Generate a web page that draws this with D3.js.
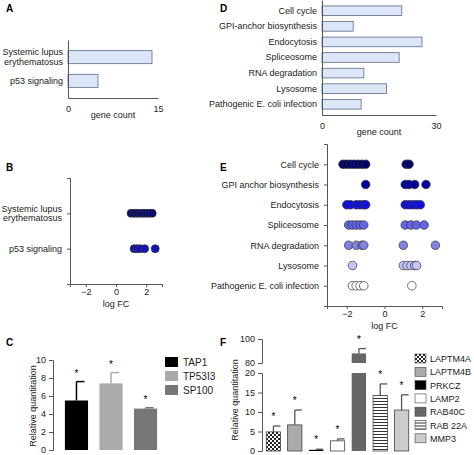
<!DOCTYPE html>
<html><head><meta charset="utf-8">
<script src="https://cdn.jsdelivr.net/npm/d3@7"></script>
<style>body{margin:0;background:#fff}svg{font-family:"Liberation Sans",Arial,sans-serif}</style>
</head><body><svg id="c" width="474" height="455"></svg>
<script>
const aTerms = ["Systemic lupus\nerythematosus", "p53 signaling"];
const aCounts = [14, 5];
const dTerms = ["Cell cycle", "GPI-anchor biosynthesis", "Endocytosis", "Spliceosome", "RNA degradation", "Lysosome", "Pathogenic E. coli infection"];
const dCounts = [21, 8.2, 26.3, 20.3, 11, 17, 10.3];
const bFC = [
  [1.0, 1.2, 1.4, 1.6, 1.8, 2.0, 2.2, 2.4],
  [1.2, 1.4, 1.6, 1.9, 2.6]
];
const bColors = ["#0a0a70", "#1515b5"];
const eTerms = ["Cell cycle", "GPI anchor biosynthesis", "Endocytosis", "Spliceosome", "RNA degradation", "Lysosome", "Pathogenic E. coli infection"];
const eFC = [
  [-2.2, -2.0, -1.8, -1.6, -1.4, -1.2, -1.0, 1.15, 1.3],
  [-1.0, 1.1, 1.3, 1.6, 2.2],
  [-2.0, -1.8, -1.5, -1.3, -1.1, -1.0, 1.1, 1.3, 1.5, 1.7, 1.9],
  [-1.9, -1.7, -1.5, -1.3, -1.1, 1.1, 1.4, 1.7, 2.1],
  [-1.9, -1.5, -1.2, -1.1, 1.0, 2.7],
  [-1.7, 1.0, 1.2, 1.4, 1.6, 1.7],
  [-1.7, -1.5, -1.3, -1.1, 1.45]
];
const eColors = ["#00006a", "#0000a0", "#1010e0", "#6464e6", "#8282e2", "#c4c4fa", "#ffffff"];
const cGenes = ["TAP1", "TP53I3", "SP100"];
const cValues = [5.5, 7.4, 4.6];
const cErrors = [2.1, 1.2, 0.1];
const cFills = ["#000", "#aaa", "#777"];
const fGenes = ["LAPTM4A", "LAPTM4B", "PRKCZ", "LAMP2", "RAB40C", "RAB 22A", "MMP3"];
const fValues = [4.9, 6.7, 0.3, 2.6, 88, 14.2, 10.5];
const fErrors = [1.5, 3.8, 0.15, 0.5, 4, 3, 3.9];
const fFills = ["url(#check)", "#aaa", "#000", "#fff", "#666", "url(#stripe)", "#ccc"];

const svg = d3.select("#c");
const defs = svg.append("defs");
const chk = defs.append("pattern").attr("id", "check").attr("width", 4).attr("height", 4).attr("patternUnits", "userSpaceOnUse");
chk.append("rect").attr("width", 4).attr("height", 4).attr("fill", "#fff");
chk.append("rect").attr("width", 2).attr("height", 2).attr("fill", "#222");
chk.append("rect").attr("x", 2).attr("y", 2).attr("width", 2).attr("height", 2).attr("fill", "#222");
const str = defs.append("pattern").attr("id", "stripe").attr("width", 4).attr("height", 3).attr("patternUnits", "userSpaceOnUse");
str.append("rect").attr("width", 4).attr("height", 3).attr("fill", "#fff");
str.append("rect").attr("y", 2).attr("width", 4).attr("height", 1).attr("fill", "#333");

function panelLabel(t, x, y) {
  svg.append("text").attr("x", x).attr("y", y).attr("font-size", 10).attr("font-weight", "bold").text(t);
}
function styleAxis(g, fs = 9) {
  g.selectAll("path,line").attr("stroke", "#555");
  g.selectAll("text").attr("font-size", fs).attr("fill", "#222");
}
function multiline(sel) {
  sel.each(function() {
    const t = d3.select(this), lines = t.text().split("\n");
    if (lines.length < 2) return;
    const x = t.attr("x");
    t.text(null).attr("dy", null);
    lines.forEach((l, i) => t.append("tspan").attr("x", x).attr("dy", i ? "1.1em" : "-0.25em").text(l));
  });
}

// A & D: bar charts
function barPanel(terms, counts, x0, x1, yTop, yBot, max, pad) {
  const x = d3.scaleLinear().domain([0, max]).range([x0, x1]);
  const y = d3.scaleBand().domain(terms).range([yTop, yBot]).padding(pad);
  svg.append("g").selectAll("rect").data(terms).join("rect")
    .attr("x", x(0)).attr("y", d => y(d)).attr("height", y.bandwidth())
    .attr("width", (d, i) => x(counts[i]) - x(0))
    .attr("fill", "#dce6f7").attr("stroke", "#5a6a8a").attr("stroke-width", 0.8);
  const ga = svg.append("g").attr("transform", `translate(${x0},0)`)
    .call(d3.axisLeft(y).tickSize(0).tickPadding(5));
  ga.selectAll("text").call(multiline);
  styleAxis(ga);
  const gx = svg.append("g").attr("transform", `translate(0,${yBot})`)
    .call(d3.axisBottom(x).tickValues([0, max]).tickSize(0).tickPadding(8));
  styleAxis(gx);
  svg.append("text").attr("x", (x0 + x1) / 2).attr("y", yBot + 20).attr("text-anchor", "middle").attr("font-size", 9).attr("fill", "#222").text("gene count");
}
panelLabel("A", 6, 12);
barPanel(aTerms, aCounts, 68, 158, 40, 98, 15, 0.45);
panelLabel("D", 220, 12);
barPanel(dTerms, dCounts, 322, 436, 0, 115, 30, 0.38);

// B & E: dot plots
function dotPanel(terms, fcs, colors, x0, x1, yTop, yBot, r) {
  const x = d3.scaleLinear().domain([-3.05, 3.05]).range([x0, x1]);
  const y = d3.scalePoint().domain(terms).range([yTop, yBot]).padding(1);
  terms.forEach((t, i) => {
    svg.append("g").selectAll("circle").data(fcs[i]).join("circle")
      .attr("cx", d => x(d)).attr("cy", y(t)).attr("r", r)
      .attr("fill", colors[i]).attr("stroke", "#333").attr("stroke-width", 0.7);
  });
  const ga = svg.append("g").attr("transform", `translate(${x0},0)`)
    .call(d3.axisLeft(y).tickSize(3).tickPadding(5));
  ga.selectAll("text").call(multiline);
  styleAxis(ga);
  const gx = svg.append("g").attr("transform", `translate(0,${yBot})`)
    .call(d3.axisBottom(x).tickValues([-2, 0, 2]).tickSize(3).tickPadding(2).tickFormat(d => d < 0 ? "\u2212" + Math.abs(d) : d));
  styleAxis(gx);
  svg.append("text").attr("x", x(0)).attr("y", yBot + 23).attr("text-anchor", "middle").attr("font-size", 9).attr("fill", "#222").text("log FC");
}
panelLabel("B", 6, 171);
dotPanel(aTerms, bFC, bColors, 70, 162, 178, 284, 4);
panelLabel("E", 220, 171);
dotPanel(eTerms, eFC, eColors, 327, 442, 144, 306, 4.3);

// C: bar chart with error bars
panelLabel("C", 6, 346);
{
  const y = d3.scaleLinear().domain([0, 10]).range([450, 360]);
  const x = d3.scaleBand().domain(cGenes).range([58, 164]).paddingInner(0.33).paddingOuter(0.2);
  const g = svg.append("g");
  cGenes.forEach((k, i) => {
    const cx = x(k) + x.bandwidth() / 2, top = y(cValues[i] + cErrors[i]);
    g.append("line").attr("x1", cx).attr("x2", cx).attr("y1", y(cValues[i])).attr("y2", top).attr("stroke", cFills[i]).attr("stroke-width", 1.5);
    g.append("line").attr("x1", cx).attr("x2", cx + 8).attr("y1", top).attr("y2", top).attr("stroke", cFills[i]).attr("stroke-width", 1.5);
    g.append("rect").attr("x", x(k)).attr("width", x.bandwidth()).attr("y", y(cValues[i])).attr("height", y(0) - y(cValues[i])).attr("fill", cFills[i]);
    g.append("text").attr("x", cx).attr("y", top - 5).attr("text-anchor", "middle").attr("font-size", 10).text("*");
  });
  const ga = svg.append("g").attr("transform", "translate(53,0)").call(d3.axisLeft(y).tickValues([0, 2, 4, 6, 8, 10]).tickSize(4));
  styleAxis(ga);
  svg.append("text").attr("transform", "translate(36,406) rotate(-90)").attr("text-anchor", "middle").attr("font-size", 9).attr("fill", "#222").text("Relative quantitation");
  const lg = svg.append("g").selectAll("g").data(cGenes).join("g").attr("transform", (d, i) => `translate(165,${357 + i * 14})`);
  lg.append("rect").attr("width", 13).attr("height", 10).attr("fill", (d, i) => cFills[i]);
  lg.append("text").attr("x", 18).attr("y", 9).attr("font-size", 10).attr("fill", "#222").text(d => d);
}

// F: broken-axis bar chart
panelLabel("F", 220, 346);
{
  const yLo = d3.scaleLinear().domain([0, 20]).range([451, 373]);
  const yHi = d3.scaleLinear().domain([80, 100]).range([363, 339]);
  const x = d3.scaleBand().domain(fGenes).range([262, 413]).paddingInner(0.33).paddingOuter(0.2);
  const g = svg.append("g");
  fGenes.forEach((k, i) => {
    const v = fValues[i], e = fErrors[i], bx = x(k), w = x.bandwidth(), cx = bx + w / 2;
    const sc = v > 20 ? yHi : yLo, top = sc(v + e);
    g.append("line").attr("x1", cx).attr("x2", cx).attr("y1", sc(v)).attr("y2", top).attr("stroke", "#555").attr("stroke-width", 1.3);
    g.append("line").attr("x1", cx).attr("x2", cx + 7).attr("y1", top).attr("y2", top).attr("stroke", "#555").attr("stroke-width", 1.3);
    const stroke = fFills[i] === "#000" || fFills[i] === "#666" ? "none" : "#444";
    if (v > 20) {
      g.append("rect").attr("x", bx).attr("width", w).attr("y", yLo(20)).attr("height", yLo(0) - yLo(20)).attr("fill", fFills[i]);
      g.append("rect").attr("x", bx).attr("width", w).attr("y", yHi(v)).attr("height", yHi(80) - yHi(v)).attr("fill", fFills[i]);
    } else {
      g.append("rect").attr("x", bx).attr("width", w).attr("y", yLo(v)).attr("height", yLo(0) - yLo(v)).attr("fill", fFills[i]).attr("stroke", stroke).attr("stroke-width", 0.8);
    }
    g.append("text").attr("x", cx).attr("y", top - 6).attr("text-anchor", "middle").attr("font-size", 10).text("*");
  });
  styleAxis(svg.append("g").attr("transform", "translate(262,0)").call(d3.axisLeft(yLo).tickValues([0, 5, 10, 15, 20]).tickSize(4)));
  styleAxis(svg.append("g").attr("transform", "translate(262,0)").call(d3.axisLeft(yHi).tickValues([80, 100]).tickSize(4)));
  svg.append("text").attr("transform", "translate(238,400) rotate(-90)").attr("text-anchor", "middle").attr("font-size", 9).attr("fill", "#222").text("Relative quantitation");
  const lg = svg.append("g").selectAll("g").data(fGenes).join("g").attr("transform", (d, i) => `translate(415,${354 + i * 13.3})`);
  lg.append("rect").attr("width", 11).attr("height", 9).attr("fill", (d, i) => fFills[i]).attr("stroke", "#444").attr("stroke-width", 0.6);
  lg.append("text").attr("x", 15).attr("y", 8).attr("font-size", 9).attr("fill", "#222").text(d => d);
}
</script></body></html>
